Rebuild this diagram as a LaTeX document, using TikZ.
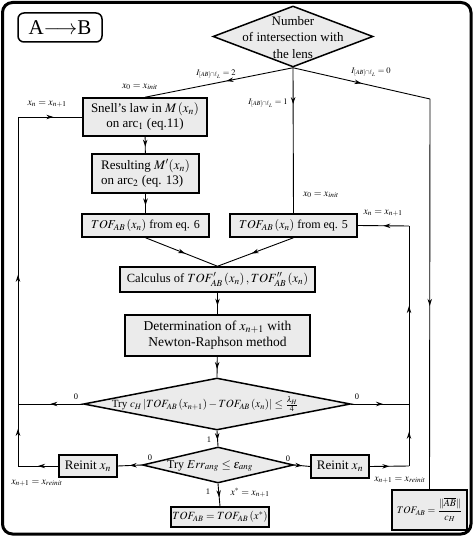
\documentclass[tikz,border=0pt]{standalone}
\usepackage{amsmath}
\usepackage{mathptmx}
\usepackage{fontspec}
\setmainfont{Liberation Serif}
\usetikzlibrary{shapes.geometric,arrows.meta,decorations.markings}
\definecolor{boxgray}{HTML}{EBEBEB}
\tikzset{
 box/.style={draw, line width=1.5pt, fill=boxgray, inner sep=1pt, font=\fontsize{13}{15}\selectfont, align=center},
 dia/.style={draw, line width=1.5pt, fill=boxgray, shape=diamond, inner sep=0pt},
 conn/.style={line width=0.9pt},
 midarrow/.style={postaction={decorate}, decoration={markings, mark=at position #1 with {\arrow{Stealth[length=7pt,width=4.5pt]}}}},
 midarrow/.default=0.5,
 lbl/.style={font=\fontsize{10}{11}\selectfont, inner sep=0pt},
 ilbl/.style={font=\fontsize{8.5}{10}\selectfont, inner sep=0pt},
 dtext/.style={font=\fontsize{13}{16.5}\selectfont, align=center, inner sep=0pt},
}
\begin{document}
\begin{tikzpicture}[x=1pt,y=-1pt]
\useasboundingbox (0,0) rectangle (474,537);
\draw[line width=3pt, rounded corners=10pt] (2.5,2.5) rectangle (471,534);

% title box
\node[draw, line width=1.5pt, rounded corners=6pt, fill=white, minimum width=84pt, minimum height=29pt, inner sep=0pt, font=\fontsize{21}{22}\selectfont] (ab) at (60,27.5) {A$\longrightarrow$B};

% diamonds
\node[dia, minimum width=160pt, minimum height=61pt] (d1) at (293,36.5) {};
\node[dtext] (d1t) at (293,37.5) {Number\\of intersection with\\the lens};
\node[dia, minimum width=267pt, minimum height=52pt] (d2) at (217,404) {};
\node[dtext, font=\fontsize{11}{13}\selectfont] (d2t) at (205,404) {Try $c_H\left|TOF_{AB}\left(x_{n+1}\right)-TOF_{AB}\left(x_n\right)\right|\le\frac{\lambda_H}{4}$};
\node[dia, minimum width=151pt, minimum height=36pt] (d3) at (218,465) {};
\node[dtext, font=\fontsize{12}{14}\selectfont] (d3t) at (210,466) {Try $Err_{ang}\le\varepsilon_{ang}$};

% boxes
\node[box, minimum width=124pt, minimum height=38pt] (snell) at (145,117) {Snell's law in $M\left(x_n\right)$\\ on arc$_1$ (eq.11)};
\node[box, minimum width=107pt, minimum height=39pt, align=left] (res) at (145.5,173.5) {Resulting $M'\!\left(x_n\right)$\\ on arc$_2$ (eq. 13)};
\node[box, minimum width=127pt, minimum height=23pt, font=\fontsize{12}{14}\selectfont] (tof6) at (145.5,225.5) {$TOF_{AB}\left(x_n\right)$ from eq. 6};
\node[box, minimum width=127pt, minimum height=23pt, font=\fontsize{12}{14}\selectfont] (tof5) at (293.5,225.5) {$TOF_{AB}\left(x_n\right)$ from eq. 5};
\node[box, minimum width=195pt, minimum height=25pt, font=\fontsize{12.5}{14}\selectfont] (calc) at (217.5,279.5) {Calculus of $TOF'_{AB}\left(x_n\right),TOF''_{AB}\left(x_n\right)$};
\node[box, minimum width=185pt, minimum height=41pt, font=\fontsize{13.5}{16}\selectfont] (det) at (217.5,335.5) {Determination of $x_{n+1}$ with\\ Newton-Raphson method};
\node[box, minimum width=58pt, minimum height=22pt] (reL) at (88,466) {Reinit $x_n$};
\node[box, minimum width=58pt, minimum height=23pt] (reR) at (340,466.5) {Reinit $x_n$};
\node[box, minimum width=98pt, minimum height=20pt, font=\fontsize{11}{13}\selectfont] (fin) at (220,517) {$TOF_{AB}=TOF_{AB}\left(x^*\right)$};
\node[box, minimum width=75pt, minimum height=40pt, font=\fontsize{10}{12}\selectfont] (tofab) at (429.5,510) {$TOF_{AB}=\dfrac{\Vert\overline{AB}\Vert}{c_H}$};

% corner coordinates
\coordinate (cLt) at (18,117);
\coordinate (cLm) at (18,404);
\coordinate (cLb) at (18,466);
\coordinate (cRt) at (409,226);
\coordinate (cRm) at (409,404);
\coordinate (cRb) at (409,466);
\coordinate (cT) at (430,99);

% connectors
\draw[conn, midarrow=0.45] (d1.south) -- (snell.north);
\draw[conn, midarrow=0.25] (d1.south) -- (tof5.north);
\draw[conn, midarrow=0.5] (d1.south) -- (cT);
\draw[conn, midarrow=0.53] (cT) -- (tofab.north);
\draw[conn, midarrow=0.6] (snell) -- (res);
\draw[conn, midarrow=0.6] (res) -- (tof6);
\draw[conn, midarrow=0.55] (tof6.south) -- (calc.north);
\draw[conn, midarrow=0.55] (tof5.south) -- (calc.north);
\draw[conn, midarrow=0.6] (calc) -- (det);
\draw[conn, midarrow=0.6] (det) -- (d2.north);
\draw[conn, midarrow=0.5] (d2.west) -- (cLm);
\draw[conn, midarrow=0.55] (d2.east) -- (cRm);
\draw[conn, midarrow=0.6] (d2.south) -- (d3.north);
\draw[conn, midarrow=0.5] (d3.west) -- (reL.east);
\draw[conn, midarrow=0.5] (d3.east) -- (reR.west);
\draw[conn, midarrow=0.6] (d3.south) -- (fin.north);
\draw[conn, midarrow=0.5] (reL.west) -- (cLb);
\draw[conn, midarrow=0.6] (cLb) -- (cLm);
\draw[conn, midarrow=0.45] (cLm) -- (cLt);
\draw[conn, midarrow=0.55] (cLt) -- (snell.west);
\draw[conn, midarrow=0.5] (reR.east) -- (cRb);
\draw[conn, midarrow=0.55] (cRb) -- (cRm);
\draw[conn, midarrow=0.55] (cRm) -- (cRt);
\draw[conn, midarrow=0.5] (cRt) -- (tof5.east);

% labels
\node[ilbl] (l1) at (216,74) {$I_{[AB]\cap\ell_L}=2$};
\node[ilbl] (l2) at (268,103) {$I_{[AB]\cap\ell_L}=1$};
\node[ilbl] (l3) at (371,72) {$I_{[AB]\cap\ell_L}=0$};
\node[lbl] (l4) at (140,87) {$x_0=x_{init}$};
\node[lbl] (l5) at (47,104) {$x_n=x_{n+1}$};
\node[lbl] (l6) at (321,195) {$x_0=x_{init}$};
\node[lbl] (l7) at (383,213) {$x_n=x_{n+1}$};
\node[lbl] (l8) at (37,483) {$x_{n+1}=x_{reinit}$};
\node[lbl] (l9) at (400,480) {$x_{n+1}=x_{reinit}$};
\node[lbl] (l10) at (250,493) {$x^*=x_{n+1}$};
\node[ilbl] (z1) at (76,397) {0};
\node[ilbl] (z2) at (357,397) {0};
\node[ilbl] (z3) at (150,458) {0};
\node[ilbl] (z4) at (288,459) {0};
\node[ilbl] (o1) at (209,440) {1};
\node[ilbl] (o2) at (208,492) {1};
\end{tikzpicture}
\end{document}
